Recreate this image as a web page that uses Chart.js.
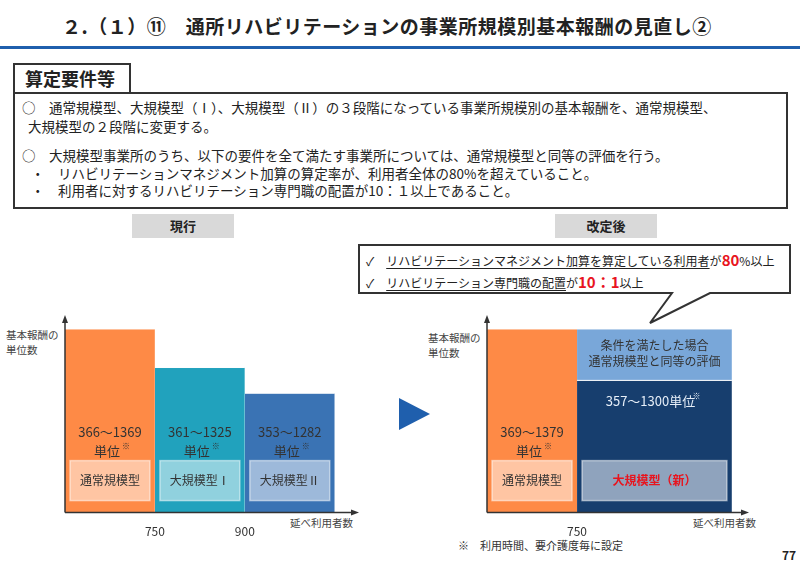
<!DOCTYPE html>
<html><head><meta charset="utf-8">
<script src="https://cdn.jsdelivr.net/npm/chart.js@4"></script>
<style>
body{margin:0;width:800px;height:565px;position:relative;background:#fff;font-family:"Noto Sans CJK JP","Noto Sans",sans-serif;color:#222;overflow:hidden}
.a{position:absolute;white-space:nowrap}
.box{position:absolute;border:2px solid #333;box-sizing:border-box}
.gray{position:absolute;background:#d9d9d9;font-weight:bold;font-size:13px;text-align:center;line-height:24px}
.cw{position:absolute}
u{text-decoration-thickness:1px;text-underline-offset:2px}
.red{color:#e8141e;font-weight:bold}
</style></head><body>
<div class="a" style="left:62px;top:12px;font-size:19px;font-weight:bold;letter-spacing:0.5px">２.（１）⑪　通所リハビリテーションの事業所規模別基本報酬の見直し②</div>
<div class="a" style="left:0;top:46px;width:800px;height:3px;background:#1f5fad"></div>
<div class="box" style="left:13px;top:63px;width:118px;height:31px;font-size:18px;font-weight:bold;padding-left:10px;line-height:27px;border-bottom:none">算定要件等</div>
<div class="box" style="left:13px;top:92px;width:775px;height:117px"></div>
<div class="a" style="left:22px;top:98px;font-size:13.5px;line-height:19px">○　通常規模型、大規模型（Ⅰ）、大規模型（Ⅱ）の３段階になっている事業所規模別の基本報酬を、通常規模型、<br>&nbsp;&nbsp;大規模型の２段階に変更する。</div>
<div class="a" style="left:22px;top:147px;font-size:13.5px;line-height:17.5px">○　大規模型事業所のうち、以下の要件を全て満たす事業所については、通常規模型と同等の評価を行う。<br>&nbsp;&nbsp;&nbsp;・　リハビリテーションマネジメント加算の算定率が、利用者全体の80%を超えていること。<br>&nbsp;&nbsp;&nbsp;・　利用者に対するリハビリテーション専門職の配置が10：１以上であること。</div>
<div class="gray" style="left:132px;top:214px;width:102px">現行</div>
<div class="gray" style="left:555px;top:214px;width:102px">改定後</div>

<svg class="a" style="left:0;top:0" width="800" height="565">
 <path d="M359,245 H790 V293 H710 L650,323 L672,293 H359 Z" fill="#fff" stroke="#333" stroke-width="2"/>
 <path d="M399,398 L430,414 L399,430 Z" fill="#1f5fad"/>
</svg>
<div class="a" style="left:366px;top:249px;font-size:12px;line-height:21px">✓　<u>リハビリテーションマネジメント加算を算定している利用者</u>が<span class="red" style="font-size:15px">80</span>%以上<br>✓　<u>リハビリテーション専門職の配置</u>が<span class="red" style="font-size:15px">10：1</span>以上</div>

<div class="a" style="left:6px;top:327px;font-size:10.5px;line-height:15px;color:#444">基本報酬の<br>単位数</div>
<div class="a" style="left:428px;top:330px;font-size:10.5px;line-height:15px;color:#444">基本報酬の<br>単位数</div>
<div class="a" style="left:290px;top:515px;font-size:10.5px;color:#444">延べ利用者数</div>
<div class="a" style="left:693px;top:515px;font-size:10.5px;color:#444">延べ利用者数</div>
<div class="a" style="left:458px;top:537px;font-size:11px;color:#333">※　利用時間、要介護度毎に設定</div>
<div class="a" style="left:782px;top:546px;font-size:12px;font-weight:bold">77</div>

<div class="cw" style="left:61px;top:305px;width:298px;height:238px"><canvas id="left"></canvas></div>
<div class="cw" style="left:483px;top:305px;width:266px;height:238px"><canvas id="right"></canvas></div>

<script>
// ---- data (bar heights relative to the tallest bar) ----
const leftEdges = [0, 1, 2, 3];
const leftHeights = [1.0, 0.79, 0.65];
const leftColors = ["#fe8a46", "#21a2bd", "#3a73b4"];
const leftRanges = ["366〜1369", "361〜1325", "353〜1282"];
const leftNames = ["通常規模型", "大規模型Ⅰ", "大規模型Ⅱ"];
const leftTicks = {1: "750", 2: "900"};

const rightEdges = [0, 1, 2.72];
const rightHeights = [1.0, 0.72];
const rightTopHeight = 1.0;
const rightColors = ["#fe8a46", "#173e6e"];
const rightRanges = ["369〜1379", "357〜1300単位"];
const rightNames = ["通常規模型", "大規模型（新）"];
const rightTicks = {1: "750"};

const F = '"Noto Sans CJK JP", sans-serif';

function rectSet(x0, x1, y, color, extra){
    return Object.assign({data:[{x:x0,y:y},{x:x1,y:y}], borderWidth:1, borderColor:"#fff",
        backgroundColor:color, fill:"origin", pointRadius:0, tension:0}, extra||{});
}

const axesPlugin = {
    id:"axes",
    afterDatasetsDraw(c){
        const {ctx, chartArea:a} = c;
        ctx.save();
        ctx.strokeStyle="#333"; ctx.fillStyle="#333"; ctx.lineWidth=1.5;
        ctx.beginPath(); ctx.moveTo(a.left,a.bottom); ctx.lineTo(a.left,a.top+4);
        ctx.moveTo(a.left,a.bottom); ctx.lineTo(a.right-4,a.bottom); ctx.stroke();
        ctx.beginPath(); ctx.moveTo(a.left,a.top); ctx.lineTo(a.left-3,a.top+8); ctx.lineTo(a.left+3,a.top+8); ctx.fill();
        ctx.beginPath(); ctx.moveTo(a.right,a.bottom); ctx.lineTo(a.right-8,a.bottom-3); ctx.lineTo(a.right-8,a.bottom+3); ctx.fill();
        // texts inside bars
        (c.config.options.notes||[]).forEach(n=>{
            const xs=c.scales.x, ys=c.scales.y;
            const l=xs.getPixelForValue(n.x0), r=xs.getPixelForValue(n.x1), cx=(l+r)/2+(n.dx||0);
            ctx.textAlign="center"; ctx.textBaseline="middle";
            if(n.box){
                ctx.fillStyle=n.box; ctx.fillRect(l+5,a.bottom-52,r-l-10,40);
                ctx.strokeStyle="rgba(255,255,255,0.5)"; ctx.strokeRect(l+5,a.bottom-52,r-l-10,40);
            }
            if(n.name){ ctx.font=(n.bold?"bold ":"")+"12px "+F; ctx.fillStyle=n.nameColor||"#333"; ctx.fillText(n.name,(l+r)/2,a.bottom-32); }
            if(n.range){
                ctx.font="13px "+F; ctx.fillStyle=n.color||"#333";
                const y=ys.getPixelForValue(n.y);
                ctx.fillText(n.range,cx,y);
                if(n.unit){ ctx.fillText("単位",cx-3,y+19); ctx.font="8px "+F; ctx.fillText("※",cx+16,y+14);}
                else { ctx.font="8px "+F; ctx.fillText("※",cx+46,y-5); }
            }
            if(n.lines){ ctx.font="12px "+F; ctx.fillStyle="#333";
                n.lines.forEach((t,i)=>ctx.fillText(t,cx,ys.getPixelForValue(n.y)+i*16)); }
        });
        ctx.restore();
    }
};

function makeChart(id, datasets, ticks, xmax, notes){
    return new Chart(document.getElementById(id),{
        type:"line", data:{datasets},
        options:{responsive:true, maintainAspectRatio:false, animation:false, notes,
            layout:{padding:{left:4,right:0,top:10,bottom:0}},
            plugins:{legend:{display:false}, tooltip:{enabled:false}},
            scales:{
                x:{type:"linear", min:0, max:xmax, grid:{display:false}, border:{display:false},
                   afterBuildTicks:s=>{s.ticks=Object.keys(ticks).map(v=>({value:+v}));},
                   ticks:{callback:v=>ticks[v]||"", color:"#333", font:{size:12,family:F}, padding:4}},
                y:{min:0, max:1.076, display:false}
            }}
        , plugins:[axesPlugin]});
}

makeChart("left",
    leftHeights.map((h,i)=>rectSet(leftEdges[i],leftEdges[i+1],h,leftColors[i])),
    leftTicks, 3.27,
    leftHeights.map((h,i)=>({x0:leftEdges[i],x1:leftEdges[i+1],y:0.44,range:leftRanges[i],unit:true,
        name:leftNames[i],box:"rgba(255,255,255,0.5)"})));

makeChart("right",[
    rectSet(rightEdges[0],rightEdges[1],rightHeights[0],rightColors[0]),
    rectSet(rightEdges[1],rightEdges[2],rightHeights[1],rightColors[1]),
    rectSet(rightEdges[1],rightEdges[2],rightTopHeight,"#79a7d9",{fill:{target:{value:rightHeights[1]}}})
  ], rightTicks, 2.91,[
    {x0:rightEdges[0],x1:rightEdges[1],y:0.44,range:rightRanges[0],unit:true,name:rightNames[0],box:"rgba(255,255,255,0.5)"},
    {x0:rightEdges[1],x1:rightEdges[2],y:0.61,range:rightRanges[1],color:"#e6eef8",dx:-4,name:rightNames[1],nameColor:"#e8141e",bold:true,box:"#8fa3bd"},
    {x0:rightEdges[1],x1:rightEdges[2],y:0.91,lines:["条件を満たした場合","通常規模型と同等の評価"]}
  ]);
</script>
</body></html>
